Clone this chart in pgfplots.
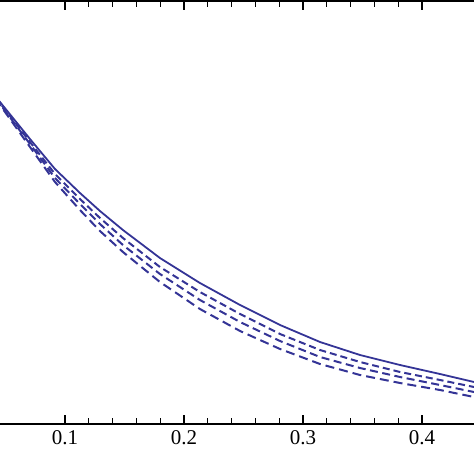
\documentclass[border=0pt]{standalone}
\usepackage{pgfplots}
\pgfplotsset{compat=1.18}
\usepackage{bm}
\usepackage{fontspec}
\setmainfont{Liberation Serif}
\definecolor{cblue}{RGB}{52,52,150}
\newcommand\tickfont{\fontsize{21}{24}\selectfont}
\begin{document}
\begin{tikzpicture}
\useasboundingbox (0pt,-50pt) rectangle (474pt,424pt);
\begin{axis}[
  at={(-5pt,0pt)}, anchor=south west,
  scale only axis, width=484pt, height=423pt,
  xmin=0.0412, xmax=0.4479, ymin=0, ymax=423,
  ytick=\empty,
  xtick={0.1,0.2,0.3,0.4},
  xticklabels={0.1,0.2,0.3,0.4},
  minor x tick num=4,
  xtick pos=both,
  tick align=inside,
  major tick length=9pt, minor tick length=6pt,
  every tick/.append style={black, line width=1.3pt},
  every minor tick/.append style={black, line width=1.3pt},
  axis line style={line width=1.8pt},
  every x tick label/.append style={font=\tickfont, yshift=-3pt},
  clip=true,
]
\addplot[cblue, line width=1.8pt] coordinates {
(0.0412,328) (0.0454,322) (0.0706,285) (0.0916,255) (0.1126,231) (0.1294,213) (0.1487,194)
(0.1798,166) (0.2134,141) (0.2471,119) (0.2807,99) (0.3143,82) (0.3479,69)
(0.3815,59) (0.4151,50) (0.4437,42) (0.4479,41)};
\addplot[cblue, line width=2pt, dash pattern=on 7pt off 4pt] coordinates {
(0.0412,327) (0.0454,321) (0.0706,282) (0.0916,250) (0.1126,225) (0.1294,206) (0.1487,186)
(0.1798,157) (0.2134,132) (0.2471,110) (0.2807,90) (0.3143,74) (0.3479,62)
(0.3815,52) (0.4151,44) (0.4437,37) (0.4479,36)};
\addplot[cblue, line width=2pt, dash pattern=on 8pt off 4.5pt] coordinates {
(0.0412,326) (0.0454,320) (0.0706,280) (0.0916,246) (0.1126,220) (0.1294,200) (0.1487,179)
(0.1798,150) (0.2134,124) (0.2471,102) (0.2807,83) (0.3143,67) (0.3479,56)
(0.3815,47) (0.4151,39) (0.4437,32) (0.4479,31)};
\addplot[cblue, line width=2pt, dash pattern=on 9pt off 5pt] coordinates {
(0.0412,325) (0.0454,319) (0.0706,277) (0.0916,242) (0.1126,214) (0.1294,193) (0.1487,172)
(0.1798,142) (0.2134,115) (0.2471,93) (0.2807,75) (0.3143,60) (0.3479,49)
(0.3815,41) (0.4151,34) (0.4437,27) (0.4479,26)};
\node[anchor=north, font=\Huge] at (axis cs:0.2742,0) [yshift=-36pt] {$\bm{\tau}$};
\end{axis}
\end{tikzpicture}
\end{document}
